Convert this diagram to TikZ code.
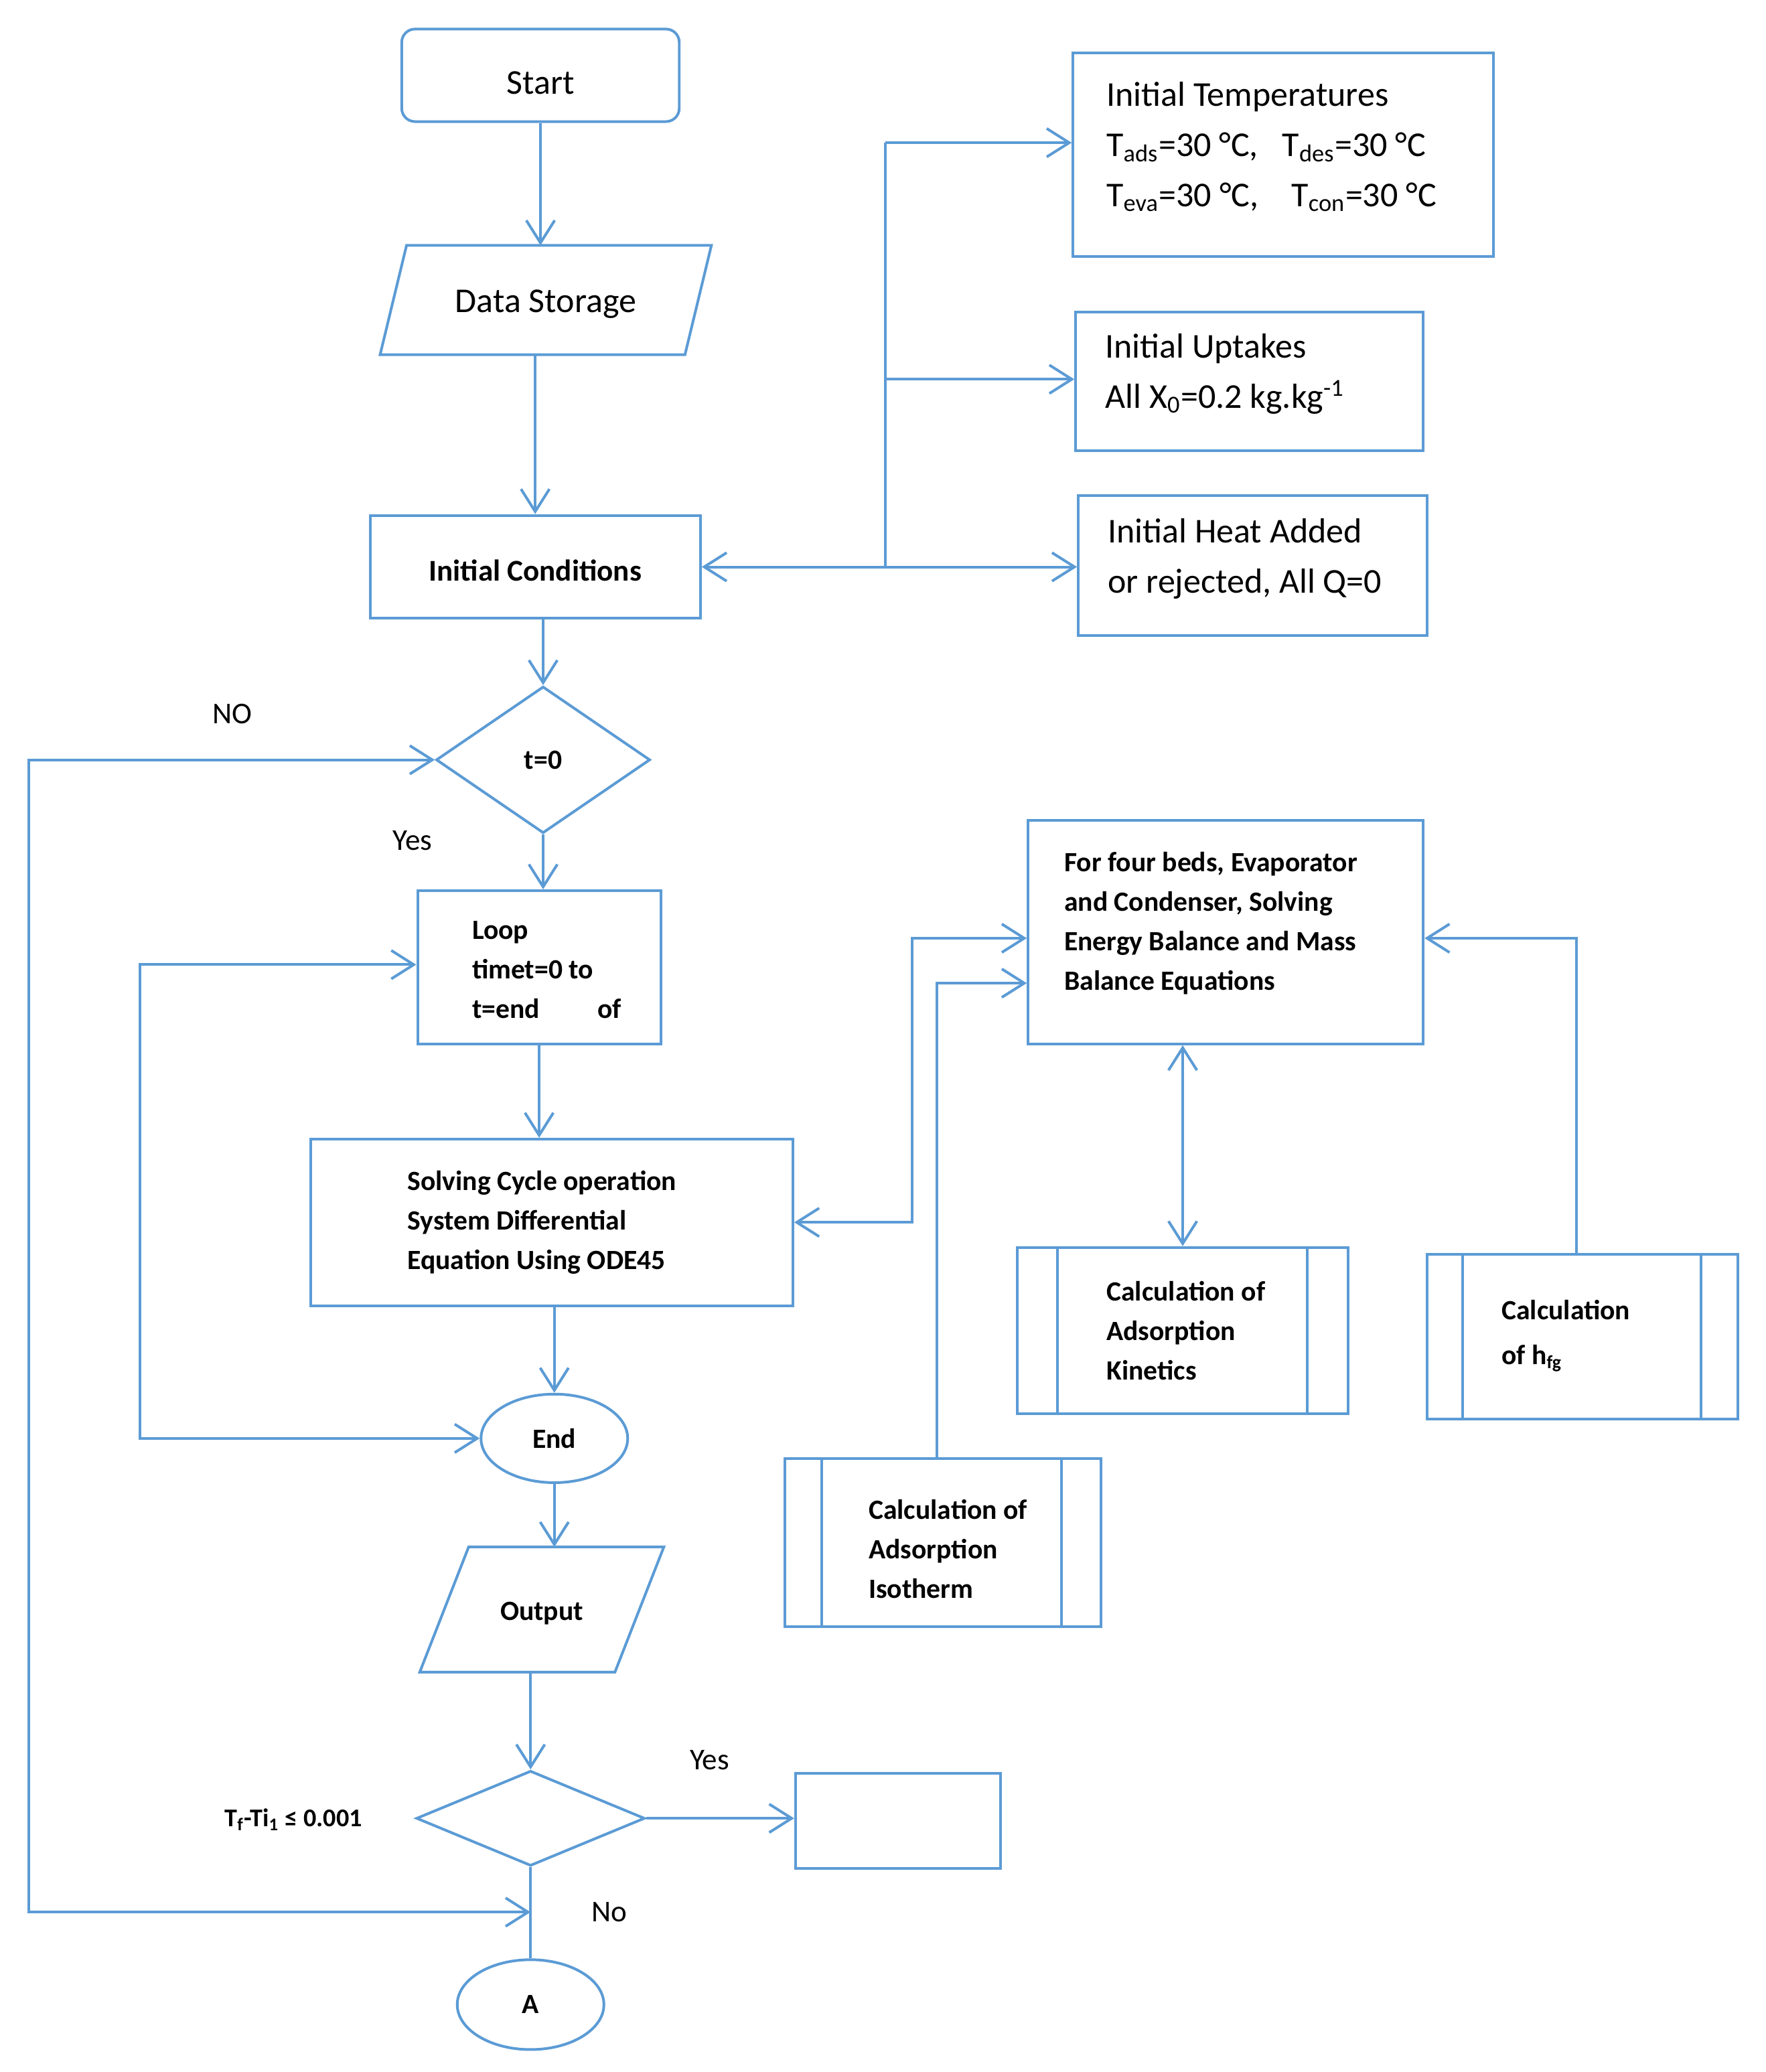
\documentclass[tikz,border=0pt]{standalone}
\usepackage{fontspec}
\setmainfont{Carlito}
\usetikzlibrary{arrows.meta,shapes.geometric,calc}
\definecolor{lb}{HTML}{5B9BD5}
\def\U{0.2mm}
\newcommand{\lowerby}[2]{\raisebox{-#1}[\height][\depth]{#2}}
\begin{document}
\begin{tikzpicture}[x=0.2mm,y=-0.2mm,
  line/.style={draw=lb, line width=1.15pt},
  tip/.tip={Straight Barb[length=3.4mm,width=4.3mm]},
  arr/.style={line, -tip},
  darr/.style={line, tip-tip},
  box/.style={line, rectangle, inner sep=0pt},
  bigtxt/.style={font=\fontsize{15}{21.6}\selectfont, text=black},
  smalltxt/.style={font=\bfseries\fontsize{12}{17}\selectfont, text=black},
  lbl/.style={font=\fontsize{13}{16}\selectfont, text=black, inner sep=0pt},
  txt/.style={anchor=west, align=left, inner sep=0pt},
]
\useasboundingbox (0,0) rectangle (1336,1568);

% ---- main column ----
\node[box, rounded corners=2mm, minimum width=210*\U, minimum height=70*\U, bigtxt] (start) at (409,57) {\lowerby{1.2mm}{Start}};
\node[inner sep=0pt, minimum width=250*\U, minimum height=82*\U, bigtxt] (ds) at (413,227) {\lowerby{0.6mm}{Data Storage}};
\draw[line] ($(ds.north west)+(20,0)$) -- (ds.north east) -- ($(ds.south east)+(-20,0)$) -- (ds.south west) -- cycle;
\node[box, minimum width=250*\U, minimum height=78*\U, font=\bfseries\fontsize{13}{16}\selectfont] (ic) at (405,429) {\lowerby{0.5mm}{Initial Conditions}};

\node[line, diamond, minimum width=162*\U, minimum height=111*\U, inner sep=0pt, smalltxt] (d1) at (411,575) {t=0};

\node[box, minimum width=184*\U, minimum height=116*\U] (loop) at (408,732) {};
\node[txt, smalltxt] (looptxt) at (357,734) {Loop\\timet=0 to\\\makebox[19mm][l]{t=end}of};

\node[box, minimum width=365*\U, minimum height=126*\U] (solve) at (417.5,925) {};
\node[txt, smalltxt] (solvetxt) at (308,925) {Solving Cycle operation\\System Differential\\Equation Using ODE45};

\node[line, ellipse, minimum width=111*\U, minimum height=67*\U, inner sep=0pt, smalltxt] (end) at (419.5,1088.5) {End};

\node[inner sep=0pt, minimum width=184*\U, minimum height=94*\U, smalltxt] (out) at (410,1218) {\lowerby{0.6mm}{Output}};
\draw[line] ($(out.north west)+(37,0)$) -- (out.north east) -- ($(out.south east)+(-37,0)$) -- (out.south west) -- cycle;

\node[line, diamond, minimum width=173*\U, minimum height=72*\U, inner sep=0pt] (d2) at (401.5,1376) {};
\node[box, minimum width=155*\U, minimum height=72*\U] (blank) at (679.5,1378) {};
\node[line, ellipse, minimum width=111*\U, minimum height=68*\U, inner sep=0pt, smalltxt] (A) at (401.5,1517) {A};

% ---- initial value boxes ----
\node[box, minimum width=318*\U, minimum height=154*\U] (b1) at (971,117) {};
\node[txt, bigtxt] (b1txt) at (837,111) {Initial Temperatures\\
\makebox[26.6mm][l]{T\textsubscript{ads}=30 °C,}T\textsubscript{des}=30 °C\\
\makebox[28mm][l]{T\textsubscript{eva}=30 °C,}T\textsubscript{con}=30 °C};

\node[box, minimum width=263*\U, minimum height=105*\U] (b2) at (945.5,288.5) {};
\node[txt, bigtxt] (b2txt) at (836,283) {Initial Uptakes\\All X\textsubscript{0}=0.2 kg.kg\textsuperscript{-1}};

\node[box, minimum width=264*\U, minimum height=106*\U] (b3) at (948,428) {};
\node[txt, bigtxt] (b3txt) at (838,423) {Initial Heat Added\\or rejected, All Q=0};

% ---- solver boxes ----
\node[box, minimum width=299*\U, minimum height=169*\U] (bb) at (927.5,705.5) {};
\node[txt, smalltxt] (bbtxt) at (805,698.5) {For four beds, Evaporator\\and Condenser, Solving\\Energy Balance and Mass\\Balance Equations};

\node[box, minimum width=250*\U, minimum height=126*\U] (kin) at (895,1007) {};
\draw[line] ($(kin.north west)+(31,0)$) -- ($(kin.south west)+(31,0)$);
\draw[line] ($(kin.north east)+(-32,0)$) -- ($(kin.south east)+(-32,0)$);
\node[txt, smalltxt] (kintxt) at (837,1007) {Calculation of\\Adsorption\\Kinetics};

\node[box, minimum width=235*\U, minimum height=125*\U] (hfg) at (1197.5,1011.5) {};
\draw[line] ($(hfg.north west)+(28,0)$) -- ($(hfg.south west)+(28,0)$);
\draw[line] ($(hfg.north east)+(-29,0)$) -- ($(hfg.south east)+(-29,0)$);
\node[txt, smalltxt, font=\bfseries\fontsize{12}{19.3}\selectfont] (hfgtxt) at (1136,1011) {Calculation\\of h\textsubscript{fg}};

\node[box, minimum width=239*\U, minimum height=127*\U] (iso) at (713.5,1167.5) {};
\draw[line] ($(iso.north west)+(29,0)$) -- ($(iso.south west)+(29,0)$);
\draw[line] ($(iso.north east)+(-31,0)$) -- ($(iso.south east)+(-31,0)$);
\node[txt, smalltxt] (isotxt) at (657,1172) {Calculation of\\Adsorption\\Isotherm};

% ---- labels ----
\node[lbl] (no1) at (176,540) {NO};
\node[lbl] (yes1) at (312,636) {Yes};
\node[lbl] (yes2) at (537,1332) {Yes};
\node[lbl] (no2) at (461,1447) {No};
\node[smalltxt, font=\bfseries\fontsize{11}{14}\selectfont, inner sep=0pt] (cond) at (222,1377) {T\textsubscript{f}-Ti\textsubscript{1} ≤ 0.001};

% ---- coordinates ----
\coordinate (tr) at (670,430);
\coordinate (t1) at (670,108);
\coordinate (t2) at (670,287);
\coordinate (c1) at (690,710);
\coordinate (c2) at (709,744);
\coordinate (c3) at (1193,710);
\coordinate (c4) at (106,730);
\coordinate (c5) at (22,575);
\coordinate (nojoin) at (401.5,1447);

% ---- connectors ----
\draw[arr] (start.south) -- (start.south |- ds.north);
\draw[arr] (ic.north |- ds.south) -- (ic.north);
\draw[arr] ($(d1.north |- ic.south)$) -- (d1.north);
\draw[arr] (d1.south) -- (d1.south |- loop.north);
\draw[arr] (loop.south) -- (loop.south |- solve.north);
\draw[arr] (end.north |- solve.south) -- (end.north);
\draw[arr] (end.south) -- (end.south |- out.north);
\draw[arr] (d2.north |- out.south) -- (d2.north);
\draw[line] (d2.south) -- (A.north);
\draw[arr] (d2.east) -- (blank.west |- d2.east);

\draw[darr] (ic.east) -- (ic.east -| b3.west);
\draw[line] (tr) -- (t1);
\draw[arr] (t1) -- (t1 -| b1.west);
\draw[arr] (t2) -- (t2 -| b2.west);

\draw[darr] (solve.east) -| (c1) -- (c1 -| bb.west);
\draw[arr] (c2 |- iso.north) -- (c2) -- (c2 -| bb.west);
\draw[darr] (kin.north |- bb.south) -- (kin.north);
\draw[arr] (c3 |- hfg.north) -- (c3) -- (c3 -| bb.east);

\draw[darr] (c4 -| loop.west) -- (c4) |- (end.west);
\draw[darr] (d1.west) -- (c5) |- (nojoin);
\end{tikzpicture}
\end{document}
